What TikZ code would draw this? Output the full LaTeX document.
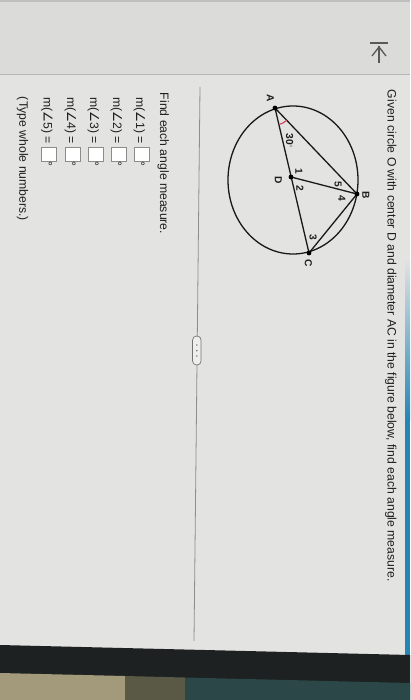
\documentclass[tikz,border=0pt]{standalone}
\usepackage{fontspec}
\setmainfont{Liberation Sans}
\newfontfamily\djv{DejaVu Sans}
\usetikzlibrary{angles,calc}
\definecolor{bg}{HTML}{E3E3E1}
\definecolor{topbg}{HTML}{DBDBD9}
\definecolor{textc}{HTML}{1E1E1E}
\definecolor{boxgray}{HTML}{8C8C8C}
\definecolor{linegray}{HTML}{8E8E8E}
\definecolor{arcred}{HTML}{D0405A}
\definecolor{darkband}{HTML}{1D2121}
\definecolor{tanc}{HTML}{A29A7A}
\definecolor{olivec}{HTML}{5A5946}
\definecolor{tealc}{HTML}{2C4747}
\definecolor{edgeblue}{HTML}{2585B5}
\newcommand\ansbox{{\setlength\fboxsep{0pt}\setlength\fboxrule{0.8pt}\fcolorbox{boxgray}{white}{\rule[-1.5pt]{0pt}{14pt}\hspace{12.5pt}}}}
\begin{document}
\begin{tikzpicture}[x=1pt,y=-1pt,
  every node/.style={inner sep=0pt, outer sep=0pt},
  txt/.style={rotate=-90, anchor=base west, text=textc, font=\fontsize{12.2}{14}\selectfont},
  lbl/.style={rotate=-90, text=textc, font=\fontsize{10.2}{12}\selectfont\bfseries},
  fig/.style={line width=1.3pt, draw=black!90},
  dot/.style={fill=black}]
\useasboundingbox (0,0) rectangle (410,700);
% backgrounds
\fill[bg] (0,0) rectangle (410,700);
\fill[topbg] (0,0) rectangle (410,74);
\fill[black!25] (0,0) rectangle (410,2);
\draw[black!28, line width=0.8pt] (0,74) -- (410,74);
\shade[top color=bg, bottom color=edgeblue] (405,260) rectangle (410,420);
\fill[edgeblue] (405,420) rectangle (410,656);
\fill[darkband] (0,645) -- (410,655) -- (410,700) -- (0,700) -- cycle;
\fill[tanc] (0,673) -- (125,676) -- (125,700) -- (0,700) -- cycle;
\fill[olivec] (125,676) -- (185,677.5) -- (185,700) -- (125,700) -- cycle;
\fill[tealc] (185,677.5) -- (410,683) -- (410,700) -- (185,700) -- cycle;
% back icon
\draw[black!65, line width=1.3pt] (370,43) -- (388,43);
\draw[black!65, line width=1.3pt] (379,46) -- (379,63);
\draw[black!65, line width=1.3pt, line join=miter] (372,56) -- (379,47) -- (386,56);
% title
\node[txt] (title) at (387.5,90) {Given circle O with center D and diameter AC in the figure below, find each angle measure.};
% figure
\coordinate (O) at (293,180);
\coordinate (A) at (275,108);
\coordinate (B) at (357,194);
\coordinate (C) at (309,253);
\coordinate (D) at (291,177);
\draw[fig] (O) ellipse [x radius=65, y radius=74];
\draw[fig] (A) -- (B) -- (C) -- cycle;
\draw[fig] (D) -- (B);
\foreach \p in {A,B,C,D} \fill[dot] (\p) circle (2.4);
\pic[draw=arcred, line width=1.1pt, angle radius=17pt] {angle = D--A--B};
\node[lbl] (lA) at (270.5,98.5) {A};
\node[lbl] (lB) at (366,195) {B};
\node[lbl] (lC) at (308.5,263) {C};
\node[lbl] (lD) at (278.5,180) {D};
\node[lbl] (l30) at (289.5,141) {30{\color{black!50}\mdseries\fontsize{9}{10}\selectfont °}};
\node[lbl] (l1) at (299,171) {1};
\node[lbl] (l2) at (300,188) {2};
\node[lbl] (l5) at (338,184) {5};
\node[lbl] (l4) at (342,198.5) {4};
\node[lbl] (l3) at (313,237) {3};
% separator
\draw[linegray, line width=0.8pt] (200,87) -- (194,641);
\node[draw=black!55, fill=bg!60!white, line width=0.7pt, rounded corners=4pt, minimum width=8.5pt, minimum height=29pt] (pill) at (196.8,350.5) {};
\foreach \yy in {345,350.7,356} \fill[black!60] (196.8,\yy) circle (0.8);
% questions
\node[txt] (find) at (160,93) {Find each angle measure.};
\node[txt] (q1) at (136,97.5) {m({\djv ∠}1) = \ansbox°};
\node[txt] (q2) at (113,97.5) {m({\djv ∠}2) = \ansbox°};
\node[txt] (q3) at (90,97.5) {m({\djv ∠}3) = \ansbox°};
\node[txt] (q4) at (67,97.5) {m({\djv ∠}4) = \ansbox°};
\node[txt] (q5) at (43.5,97.5) {m({\djv ∠}5) = \ansbox°};
\node[txt] (note) at (19.5,97) {(Type whole numbers.)};
\end{tikzpicture}
\end{document}
